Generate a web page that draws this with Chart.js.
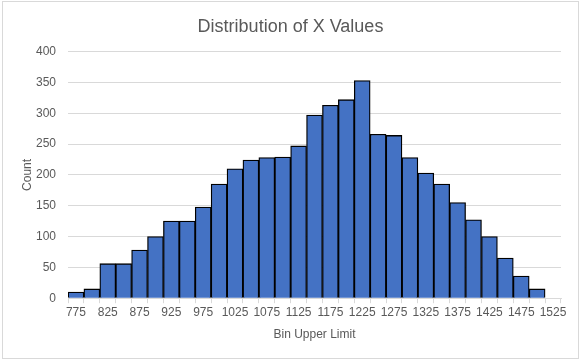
<!DOCTYPE html>
<html>
<head>
<meta charset="utf-8">
<script src="https://cdn.jsdelivr.net/npm/chart.js@4"></script>
<style>
  body { margin: 0; background: #fff; }
  #wrap { position: absolute; left: 2px; top: 1px; width: 575px; height: 356px; border: 1px solid #d9d9d9; }
  canvas { display: block; }
</style>
</head>
<body>
<div id="wrap"><canvas id="chart"></canvas></div>
<script>
// bin upper limits (every other one gets a tick label)
const bins = [775, 800, 825, 850, 875, 900, 925, 950, 975, 1000, 1025, 1050, 1075, 1100, 1125,
              1150, 1175, 1200, 1225, 1250, 1275, 1300, 1325, 1350, 1375, 1400, 1425, 1450, 1475, 1500, 1525];
const counts = [10, 15, 56, 56, 78, 100, 125, 125, 148, 185, 210, 224, 228, 229, 247,
                297, 313, 322, 353, 266, 264, 228, 203, 185, 155, 127, 100, 65, 36, 15, 0];
const yTicks = [0, 50, 100, 150, 200, 250, 300, 350, 400];

const grey = '#595959';
const font = 'Liberation Sans';

new Chart(document.getElementById('chart'), {
    type: 'bar',
    data: {
        labels: bins.map(String),
        datasets: [{
            data: counts,
            backgroundColor: '#4472C4',
            borderColor: '#000000',
            borderWidth: 1.3,
            barPercentage: 1,
            categoryPercentage: 1
        }]
    },
    options: {
        responsive: true,
        maintainAspectRatio: false,
        animation: false,
        layout: { padding: { left: 17, right: 17, top: 6, bottom: 12 } },
        plugins: {
            legend: { display: false },
            tooltip: { enabled: false },
            title: {
                display: true,
                text: 'Distribution of X Values',
                color: grey,
                font: { family: font, size: 18, weight: 'normal' },
                padding: { top: 8, bottom: 14 }
            }
        },
        scales: {
            x: {
                grid: { display: true, drawOnChartArea: false, drawTicks: true, tickLength: 5, color: '#d9d9d9', offset: true },
                border: { display: true, color: '#d9d9d9' },
                ticks: {
                    autoSkip: false,
                    maxRotation: 0,
                    color: grey,
                    font: { family: font, size: 12 },
                    padding: 2,
                    callback: (v, i) => i % 2 === 0 ? bins[i] : ''
                },
                title: { display: true, text: 'Bin Upper Limit', color: grey, font: { family: font, size: 12 }, padding: { top: 6 } }
            },
            y: {
                min: 0, max: 400,
                afterBuildTicks: axis => { axis.ticks = yTicks.map(v => ({ value: v })); },
                afterFit: axis => { axis.width = 48; },
                grid: { color: '#d9d9d9', drawTicks: false },
                border: { display: false },
                ticks: { color: grey, font: { family: font, size: 12 }, padding: 12 },
                title: { display: true, text: 'Count', color: grey, font: { family: font, size: 12 }, padding: { top: 0, bottom: 0 } }
            }
        }
    }
});
</script>
</body>
</html>
